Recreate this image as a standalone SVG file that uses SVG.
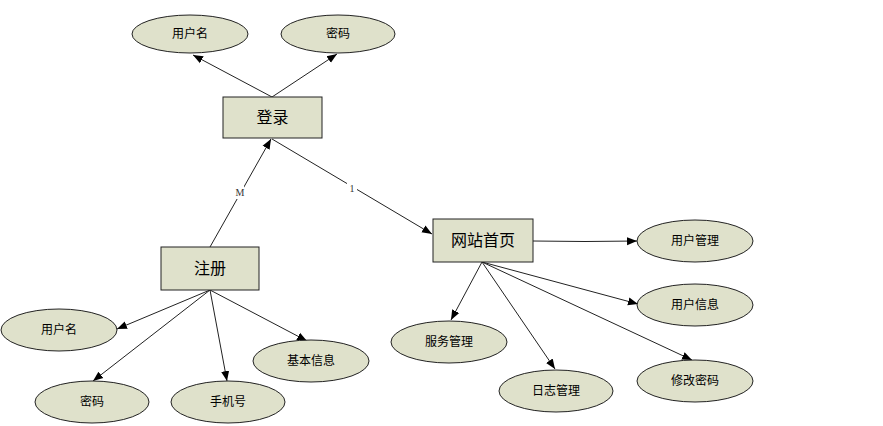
<svg xmlns="http://www.w3.org/2000/svg" width="883" height="426" viewBox="0 0 883 426">
<style>
.n{fill:#dfe1cb;stroke:#222;stroke-width:1}
.t{font-family:"Liberation Sans","Noto Sans CJK SC",sans-serif;font-size:12px;fill:#000;text-anchor:middle;dominant-baseline:central}
.b{font-size:16px}
.c line,.c path{stroke:#222;stroke-width:1;fill:none;marker-end:url(#a)}
.l{font-family:"Liberation Serif",serif;font-size:10px;fill:#333;text-anchor:middle;dominant-baseline:central}
</style>
<defs>
<marker id="a" viewBox="0 0 10 10" refX="10" refY="5" markerWidth="10" markerHeight="10" markerUnits="userSpaceOnUse" orient="auto">
<path d="M0,1 L10,5 L0,9 z" fill="#000"/>
</marker>
</defs>
<rect width="883" height="426" fill="#fff"/>
<g class="c" id="connectors">
<line x1="272" y1="97" x2="193" y2="55"/>
<line x1="272" y1="97" x2="337" y2="54"/>
<line x1="210" y1="247" x2="271" y2="139"/>
<line x1="272" y1="139" x2="432" y2="234"/>
<path d="M533,241 Q585,242 637,241"/>
<line x1="482" y1="262" x2="638" y2="304"/>
<line x1="482" y1="262" x2="451" y2="320"/>
<line x1="482" y1="262" x2="555" y2="369"/>
<line x1="482" y1="262" x2="692" y2="360"/>
<line x1="210" y1="290" x2="117" y2="329"/>
<line x1="210" y1="290" x2="93" y2="381"/>
<line x1="210" y1="290" x2="227" y2="381"/>
<line x1="210" y1="290" x2="307" y2="341"/>
<rect x="234" y="185" width="10" height="14" fill="#fff" stroke="none"/>
<rect x="347" y="181" width="10" height="14" fill="#fff" stroke="none"/>
<text class="l" x="240" y="192">M</text>
<text class="l" x="352" y="188">1</text>
</g>
<g id="login"><rect class="n" x="223" y="97" width="99" height="41"/><text class="t b" x="272.5" y="117.5">登录</text></g>
<g id="register"><rect class="n" x="161" y="247" width="98" height="43"/><text class="t b" x="210" y="268.5">注册</text></g>
<g id="home"><rect class="n" x="433" y="219" width="100" height="43"/><text class="t b" x="483" y="240.5">网站首页</text></g>
<g id="login-username"><ellipse class="n" cx="190" cy="34" rx="58" ry="19"/><text class="t" x="190" y="34">用户名</text></g>
<g id="login-password"><ellipse class="n" cx="338" cy="34" rx="57" ry="19"/><text class="t" x="338" y="34">密码</text></g>
<g id="reg-username"><ellipse class="n" cx="59" cy="330" rx="58" ry="21"/><text class="t" x="59" y="330">用户名</text></g>
<g id="reg-password"><ellipse class="n" cx="92" cy="402" rx="57" ry="21"/><text class="t" x="92" y="402">密码</text></g>
<g id="reg-phone"><ellipse class="n" cx="228" cy="402" rx="57" ry="21"/><text class="t" x="228" y="402">手机号</text></g>
<g id="reg-basic"><ellipse class="n" cx="311" cy="361" rx="58" ry="21"/><text class="t" x="311" y="361">基本信息</text></g>
<g id="user-mgmt"><ellipse class="n" cx="695" cy="241" rx="58" ry="21"/><text class="t" x="695" y="241">用户管理</text></g>
<g id="user-info"><ellipse class="n" cx="695" cy="305" rx="58" ry="21"/><text class="t" x="695" y="305">用户信息</text></g>
<g id="service-mgmt"><ellipse class="n" cx="449" cy="342" rx="58" ry="21"/><text class="t" x="449" y="342">服务管理</text></g>
<g id="log-mgmt"><ellipse class="n" cx="556" cy="391" rx="57" ry="21"/><text class="t" x="556" y="391">日志管理</text></g>
<g id="change-pwd"><ellipse class="n" cx="695" cy="381" rx="58" ry="21"/><text class="t" x="695" y="381">修改密码</text></g>
</svg>
